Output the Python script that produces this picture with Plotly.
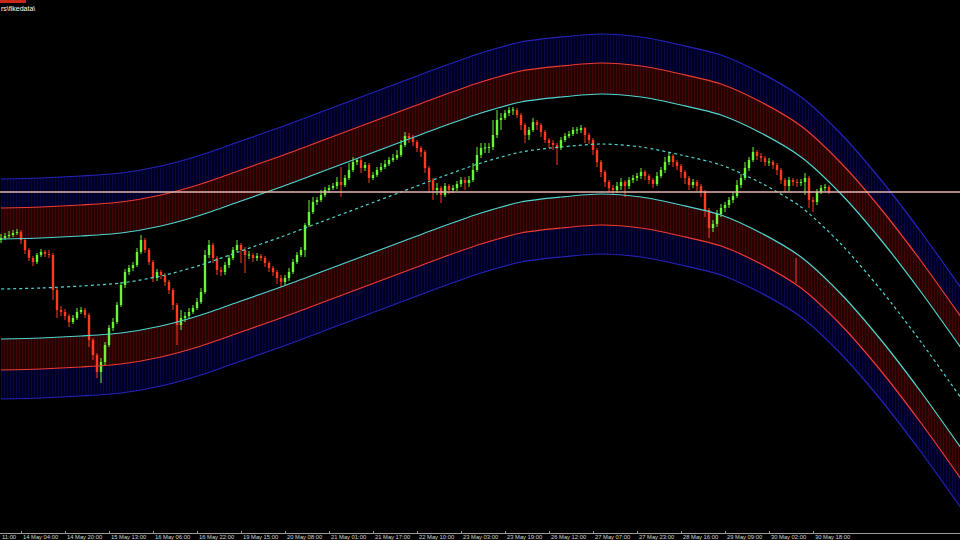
import plotly.graph_objects as go

# ---------------- data (price points: price = 1.1000 + v/10000) ----------------
open0 = 240
close_pts = [
    242, 244, 245, 247, 248, 240, 230, 222, 218, 225, 228, 226, 225, 190, 170, 168, 164, 158, 162, 168,
    170, 165, 140, 125, 108, 118, 135, 152, 158, 175, 195, 208, 212, 215, 228, 240, 230, 218, 202, 208,
    205, 198, 190, 175, 155, 162, 164, 168, 172, 178, 188, 225, 235, 222, 210, 208, 215, 222, 230, 235,
    230, 225, 225, 222, 224, 222, 217, 212, 208, 202, 198, 202, 208, 218, 225, 230, 255, 268, 278, 280,
    285, 290, 292, 294, 298, 295, 302, 310, 318, 320, 312, 315, 302, 305, 310, 313, 316, 320, 322, 325,
    335, 344, 342, 338, 332, 328, 312, 300, 290, 292, 285, 294, 290, 292, 296, 300, 297, 300, 310, 325,
    332, 332, 333, 345, 360, 362, 367, 370, 370, 365, 355, 345, 350, 358, 355, 348, 340, 337, 335, 332,
    340, 344, 346, 350, 350, 352, 345, 340, 330, 318, 308, 298, 292, 290, 294, 298, 294, 300, 302, 304,
    308, 304, 300, 296, 304, 310, 318, 324, 318, 314, 308, 302, 295, 298, 294, 288, 270, 252, 256, 266,
    272, 275, 280, 284, 295, 302, 312, 320, 328, 324, 322, 318, 318, 315, 310, 300, 294, 300, 298, 297,
    298, 302, 280, 278, 288, 292, 293, 288,
]
high_pts = [
    246, 247, 249, 250, 251, 250, 242, 232, 224, 227, 231, 230, 230, 227, 192, 174, 171, 166, 165, 172,
    173, 172, 167, 142, 127, 122, 138, 155, 162, 178, 198, 211, 215, 218, 232, 245, 242, 232, 220, 211,
    210, 207, 200, 192, 177, 170, 168, 172, 175, 182, 192, 230, 240, 237, 224, 213, 218, 225, 233, 240,
    237, 233, 229, 227, 227, 226, 224, 219, 214, 210, 205, 205, 212, 221, 228, 233, 257, 280, 283, 283,
    290, 293, 295, 297, 303, 313, 305, 317, 323, 322, 322, 318, 317, 308, 313, 317, 320, 323, 326, 330,
    340, 348, 347, 345, 340, 334, 330, 314, 302, 297, 294, 297, 296, 295, 299, 303, 303, 304, 317, 333,
    337, 337, 337, 360, 370, 367, 370, 373, 373, 372, 367, 357, 353, 362, 360, 357, 350, 342, 340, 337,
    343, 347, 349, 353, 353, 355, 353, 347, 342, 332, 320, 310, 300, 295, 298, 302, 300, 303, 305, 307,
    312, 310, 306, 302, 308, 313, 323, 328, 326, 320, 316, 310, 304, 301, 300, 296, 290, 272, 260, 270,
    276, 278, 283, 288, 300, 306, 318, 323, 333, 330, 327, 324, 322, 320, 317, 312, 302, 303, 302, 301,
    301, 307, 304, 283, 291, 295, 296, 295,
]
low_pts = [
    237, 240, 242, 243, 245, 236, 226, 219, 214, 216, 223, 223, 222, 180, 162, 164, 160, 153, 156, 160,
    166, 162, 133, 120, 102, 97, 115, 133, 149, 156, 173, 192, 205, 209, 213, 226, 227, 215, 198, 199,
    201, 194, 186, 170, 135, 150, 158, 161, 166, 170, 176, 186, 222, 217, 205, 204, 205, 212, 220, 228,
    217, 207, 221, 218, 219, 219, 213, 208, 204, 196, 193, 195, 199, 206, 216, 223, 223, 253, 266, 275,
    278, 283, 287, 290, 291, 283, 293, 300, 308, 315, 307, 309, 297, 300, 303, 308, 311, 314, 318, 320,
    323, 333, 337, 334, 328, 323, 307, 287, 280, 285, 277, 283, 286, 287, 289, 293, 290, 293, 298, 308,
    322, 327, 327, 330, 342, 350, 360, 364, 365, 362, 350, 337, 340, 348, 350, 343, 337, 332, 330, 315,
    330, 338, 342, 344, 346, 347, 337, 336, 325, 313, 303, 293, 288, 285, 287, 290, 283, 291, 297, 299,
    301, 300, 296, 292, 294, 302, 307, 315, 313, 310, 302, 296, 290, 292, 289, 283, 263, 242, 248, 253,
    263, 268, 272, 277, 282, 292, 300, 309, 318, 320, 318, 314, 314, 311, 305, 296, 288, 289, 294, 293,
    294, 285, 272, 268, 275, 286, 289, 286,
]

# polynomial regression channel: centre line sampled every 10 bars, band offsets (points)
center_idx = list(range(0, 241, 10))
center_pts = [191, 192, 194, 197, 204, 215, 229, 243, 258, 273, 288, 303, 317, 328, 333, 336,
              333, 325, 315, 297, 273, 236, 190, 138, 82]
band_inner = 50   # cyan
band_mid = 81     # red
band_outer = 110  # blue

# stray indicator segment
seg_idx = 198.75
seg_pts = [222, 197]

first_label = "11:00"   # visible part of the first time label at the left edge
tick_labels = ["14 May 04:00", "14 May 20:00", "15 May 13:00", "16 May 06:00",
               "16 May 22:00", "19 May 15:00", "20 May 08:00", "21 May 01:00", "21 May 17:00",
               "22 May 10:00", "23 May 03:00", "23 May 19:00", "26 May 12:00", "27 May 07:00",
               "27 May 23:00", "28 May 16:00", "29 May 09:00", "30 May 02:00", "30 May 18:00"]
path_label = "rs\\fikedata\\"

# ---------------- helpers ----------------
def px(v):
    return 1.1 + v / 10000.0

opens = [open0] + close_pts[:-1]
n = len(close_pts)

GREEN = "#6cf43a"
RED = "#ff3a22"
CYAN = "#4fd6d0"
LRED = "#ee3a30"
BLUE = "#2323b8"
FONT = "Liberation Sans, Arial, sans-serif"

fig = go.Figure()

def band(offset):
    return [px(c + offset) for c in center_pts]

red_pat = dict(shape="|", bgcolor="#260202", fgcolor="#5c0c0c", size=3, solidity=0.35)
blue_pat = dict(shape="|", bgcolor="#000026", fgcolor="#0c0c5c", size=3, solidity=0.35)

def fill_trace(y, fill=None, pattern=None):
    kw = dict(x=center_idx, y=y, mode="lines", line=dict(width=0, shape="spline", smoothing=0.8),
              hoverinfo="skip", showlegend=False)
    if fill:
        kw["fill"] = fill
        kw["fillpattern"] = pattern
    return go.Scatter(**kw)

# band fills
fig.add_trace(fill_trace(band(band_outer)))
fig.add_trace(fill_trace(band(band_mid), "tonexty", blue_pat))
fig.add_trace(fill_trace(band(band_inner), "tonexty", red_pat))
fig.add_trace(fill_trace(band(-band_inner)))
fig.add_trace(fill_trace(band(-band_mid), "tonexty", red_pat))
fig.add_trace(fill_trace(band(-band_outer), "tonexty", blue_pat))

# candles
for up, col in ((True, GREEN), (False, RED)):
    wx, wy, bx, by = [], [], [], []
    for i in range(n):
        o, c = opens[i], close_pts[i]
        if (c >= o) != up:
            continue
        wx += [i, i, None]
        wy += [px(low_pts[i]), px(high_pts[i]), None]
        lo_b, hi_b = min(o, c), max(o, c)
        if hi_b == lo_b:
            hi_b += 0.6
            lo_b -= 0.6
        bx += [i, i, None]
        by += [px(lo_b), px(hi_b), None]
    fig.add_trace(go.Scatter(x=wx, y=wy, mode="lines", line=dict(color=col, width=1),
                             hoverinfo="skip", showlegend=False))
    fig.add_trace(go.Scatter(x=bx, y=by, mode="lines", line=dict(color=col, width=2.4),
                             hoverinfo="skip", showlegend=False))

# channel lines
def line_trace(y, color, dash="solid", width=1.2):
    return go.Scatter(x=center_idx, y=y, mode="lines",
                      line=dict(color=color, width=width, dash=dash, shape="spline", smoothing=0.8),
                      hoverinfo="skip", showlegend=False)

fig.add_trace(line_trace(band(band_outer), BLUE))
fig.add_trace(line_trace(band(band_mid), LRED))
fig.add_trace(line_trace(band(band_inner), CYAN))
fig.add_trace(line_trace(band(0), CYAN, dash="dot", width=1.2))
fig.add_trace(line_trace(band(-band_inner), CYAN))
fig.add_trace(line_trace(band(-band_mid), LRED))
fig.add_trace(line_trace(band(-band_outer), BLUE))

# stray segment
fig.add_trace(go.Scatter(x=[seg_idx, seg_idx], y=[px(v) for v in seg_pts], mode="lines",
                         line=dict(color=LRED, width=1), hoverinfo="skip", showlegend=False))

# bid line at last close
fig.add_hline(y=px(close_pts[-1]), line=dict(color="#e6b4b0", width=1.5))

# x ticks / labels (MT4 style: label starts at tick)
tick_pos = [5 + 11 * k for k in range(len(tick_labels))]
lab_font = dict(family=FONT, size=5.8, color="#d2d2d2")
for t, lab in zip(tick_pos, tick_labels):
    fig.add_annotation(x=t, y=0, xref="x", yref="paper", text=lab, showarrow=False,
                       xanchor="left", yanchor="top", xshift=1, yshift=0, borderpad=0,
                       font=lab_font)
fig.add_annotation(x=0, y=0, xref="paper", yref="paper", text=first_label, showarrow=False,
                   xanchor="left", yanchor="top", xshift=1, yshift=0, borderpad=0, font=lab_font)

# top-left decorations
fig.add_shape(type="rect", xref="paper", yref="paper", x0=0, x1=26 / 960, y0=1 - 3 / 533, y1=1,
              fillcolor="#c8281c", line=dict(width=0))
fig.add_annotation(x=0, y=1 - 4 / 533, xref="paper", yref="paper", text=path_label, showarrow=False,
                   xanchor="left", yanchor="top", xshift=0, borderpad=0,
                   font=dict(family=FONT, size=7, color="#ffffff"))

fig.update_layout(
    width=960, height=540,
    margin=dict(l=0, r=0, t=0, b=7),
    paper_bgcolor="black", plot_bgcolor="black",
    showlegend=False,
    xaxis=dict(range=[-0.25, 239.75], showgrid=False, zeroline=False, showline=True,
               linecolor="#9a9a9a", linewidth=1, tickvals=tick_pos, ticks="inside", ticklen=2,
               tickcolor="#9a9a9a", showticklabels=False, fixedrange=True),
    yaxis=dict(range=[px(-53), px(480)], showgrid=False, zeroline=False, showline=False,
               showticklabels=False, ticks="", fixedrange=True),
)

fig.write_html("out.html", config={"displayModeBar": False},
               post_script="document.body.style.margin='0';document.body.style.background='black';")
